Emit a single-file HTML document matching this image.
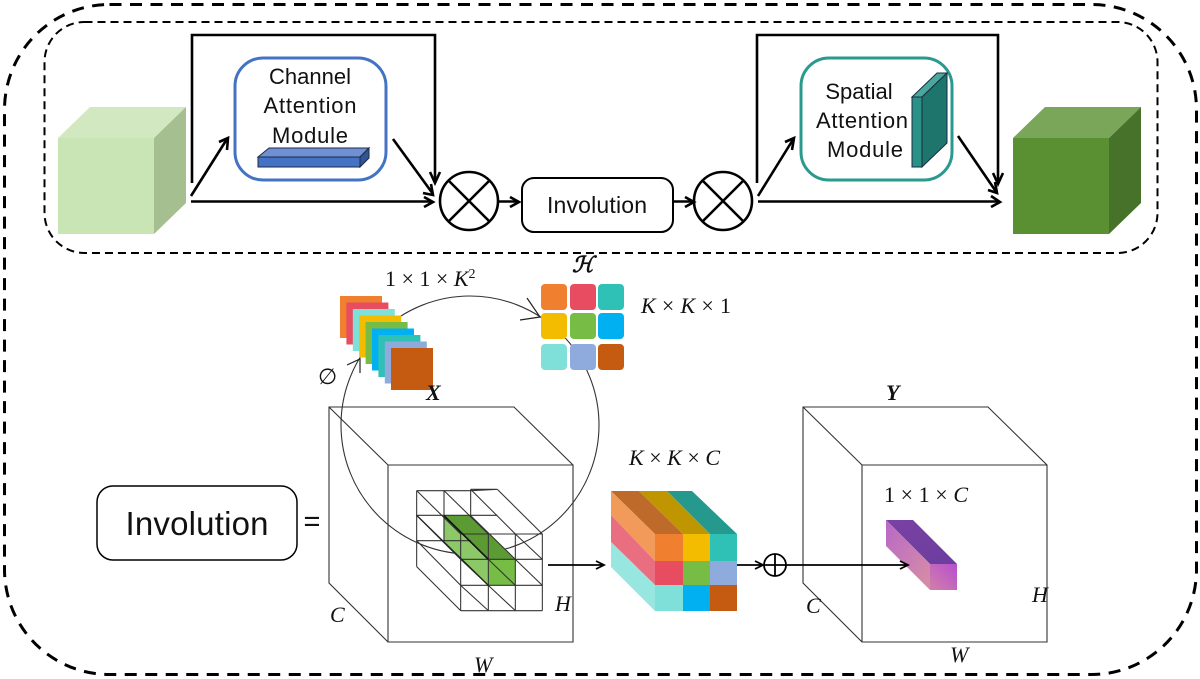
<!DOCTYPE html>
<html><head><meta charset="utf-8"><style>
html,body{margin:0;padding:0;background:#fff;width:1200px;height:679px;overflow:hidden}
svg{display:block}
.s{font-family:"Liberation Sans",sans-serif;fill:#111;text-anchor:middle}
.m{font-family:"Liberation Serif","DejaVu Serif",serif;fill:#111;font-size:22px}
.i{font-style:italic}
</style></head><body>
<svg width="1200" height="679" viewBox="0 0 1200 679" xmlns="http://www.w3.org/2000/svg">
<defs>
<linearGradient id="pt" x1="0" y1="0" x2="1" y2="1"><stop offset="0" stop-color="#7a42a4"/><stop offset="1" stop-color="#6a3d9e"/></linearGradient>
<linearGradient id="pl" x1="0" y1="0" x2="1" y2="1"><stop offset="0" stop-color="#b868c8"/><stop offset="1" stop-color="#d88ea4"/></linearGradient>
<linearGradient id="pf" x1="1" y1="0" x2="0" y2="1"><stop offset="0" stop-color="#b84fd0"/><stop offset="1" stop-color="#d080a8"/></linearGradient>
</defs>
<rect x="4.5" y="4.5" width="1192" height="670" rx="105" fill="none" stroke="#000" stroke-width="3" stroke-dasharray="12 8.5"/>
<rect x="44.5" y="22" width="1113" height="231" rx="40" fill="none" stroke="#000" stroke-width="2" stroke-dasharray="8 5"/>

<!-- input cube -->
<polygon points="58,138 90,107 186,107 154,138" fill="#d1e8c1"/>
<polygon points="154,138 186,107 186,203 154,234" fill="#a5bf91"/>
<rect x="58" y="138" width="96" height="96" fill="#c9e5b5"/>
<!-- output cube -->
<polygon points="1013,138 1045,107 1141,107 1109,138" fill="#7aa65a"/>
<polygon points="1109,138 1141,107 1141,203 1109,234" fill="#46722a"/>
<rect x="1013" y="138" width="96" height="96" fill="#5a8f32"/>

<!-- top connectors -->
<g fill="none" stroke="#000" stroke-width="2.6">
<path d="M192,183V35H435V183"/><path d="M430,172L435,183L440,172"/>
<path d="M191,196L227,139"/><path d="M219,142L228,138L227,150"/>
<path d="M393,139L433,194"/><path d="M423,193L433,195L431,184"/>
<path d="M191,201.5H432"/><path d="M424,197L433,202L424,207"/>
<circle cx="469" cy="201" r="29"/><path d="M448,180L490,222M490,180L448,222"/>
<path d="M498,201.5H518"/><path d="M510,197L519,202L510,207"/>
<path d="M673,201.5H693"/><path d="M685,197L694,202L685,207"/>
<circle cx="723" cy="201" r="29"/><path d="M702,180L744,222M744,180L702,222"/>
<path d="M757,183V35H998V184"/><path d="M993,173L998,184L1003,173"/>
<path d="M758,196L794,138"/><path d="M785,142L794,138L792,150"/>
<path d="M958,136L997,193"/><path d="M988,190L997,193L995,182"/>
<path d="M758,201.5H999"/><path d="M991,196L1000,202L991,207"/>
</g>
<rect x="235" y="58" width="151" height="122" rx="28" fill="#fff" stroke="#4472c4" stroke-width="3"/>
<rect x="801" y="58" width="151" height="122" rx="28" fill="#fff" stroke="#2b9a8e" stroke-width="3"/>
<rect x="522" y="178" width="151" height="54" rx="12" fill="#fff" stroke="#000" stroke-width="2"/>

<text class="s" font-size="22" x="310" y="84">Channel</text>
<text class="s" font-size="22" x="310" y="113" textLength="93">Attention</text>
<text class="s" font-size="22" x="310" y="143" textLength="76">Module</text>
<text class="s" font-size="22" x="859" y="99">Spatial</text>
<text class="s" font-size="22" x="862" y="128" textLength="92">Attention</text>
<text class="s" font-size="22" x="865" y="157" textLength="76">Module</text>
<text class="s" font-size="23" x="597" y="213" textLength="100">Involution</text>

<!-- blue block -->
<g stroke="#1c2a44" stroke-width="1">
<polygon points="258,157 269,148 369,148 360,157" fill="#6f91d4"/>
<polygon points="360,157 369,148 369,158 360,167" fill="#2f5597"/>
<rect x="258" y="157" width="102" height="10" fill="#4472c4"/>
<!-- teal block -->
<polygon points="912,97 937,73 947,73 922,97" fill="#4aa89b"/>
<polygon points="922,97 947,73 947,143 922,167" fill="#1d756b"/>
<rect x="912" y="97" width="10" height="70" fill="#2a9187"/>
</g>

<!-- lower left -->
<rect x="97" y="486" width="200" height="74" rx="16" fill="#fff" stroke="#000" stroke-width="1.5"/>
<text class="s" x="197" y="535" font-size="33" textLength="143">Involution</text>
<text class="s" x="312" y="531" font-size="29">=</text>

<!-- cube X -->
<g fill="none" stroke="#333" stroke-width="1.1">
<path d="M329,407H514L573,465V642H388L329,583Z"/>
<path d="M329,407L388,465H573M388,465V642"/>
<!-- cube Y -->
<path d="M803,407H988L1047,465V642H862L803,583Z"/>
<path d="M803,407L862,465H1047M862,465V642"/>
</g>

<!-- big circle -->
<circle cx="470" cy="425" r="129" fill="none" stroke="#333" stroke-width="1.1"/>
<path d="M527,298L540,317L520,320M347,365L360,359L360,373" fill="none" stroke="#222" stroke-width="1.2"/>

<!-- small grid -->
<g transform="translate(380,470) scale(.33333)">
<polygon points="190,137 272,137 406,268 325,268" fill="#5c9a34"/>
<polygon points="190,137 325,268 325,346 190,212" fill="#8cc868"/>
<polygon points="325,268 406,268 406,346 325,346" fill="#76bc45"/>
<g fill="none" stroke="#333" stroke-width="3.2">
<path d="M110,62H272L352,58M272,58H352M110,136H352M110,212H272M242,192H487M242,268H487M242,346H487M242,422H487"/>
<path d="M110,62V290M192,62V212M272,58V137M242,192V422M325,192V422M406,192V422M487,192V422"/>
<path d="M110,62L242,192M192,62L325,192M272,58L406,192M352,58L487,192"/>
<path d="M110,136L242,268M192,137L325,268M272,137L406,268"/>
<path d="M110,212L242,346M110,290L242,422"/>
<path d="M242,268L325,346M325,268L406,346M406,268L487,346M406,192L487,268M325,346L406,422M242,346L325,422"/>
</g>
<path d="M110,136L325,346" fill="none" stroke="#222" stroke-width="4"/>
<path d="M192,137L325,268" fill="none" stroke="#111" stroke-width="5"/>
</g>

<!-- stack -->
<rect x="340" y="296" width="42" height="42" fill="#f08030"/>
<rect x="346.4" y="302.5" width="42" height="42" fill="#e84c60"/>
<rect x="352.8" y="309" width="42" height="42" fill="#7fe0da"/>
<rect x="359.2" y="315.5" width="42" height="42" fill="#f3bc00"/>
<rect x="365.6" y="322" width="42" height="42" fill="#76bc45"/>
<rect x="372" y="328.5" width="42" height="42" fill="#00b0f0"/>
<rect x="378.4" y="335" width="42" height="42" fill="#2fc1b5"/>
<rect x="384.8" y="341.5" width="42" height="42" fill="#8faadc"/>
<rect x="391" y="348" width="42" height="42" fill="#c55a11"/>

<!-- H tiles -->
<g>
<rect x="541" y="284" width="26" height="26" rx="4" fill="#f08030"/>
<rect x="570" y="284" width="26" height="26" rx="4" fill="#e84c60"/>
<rect x="598" y="284" width="26" height="26" rx="4" fill="#2fc1b5"/>
<rect x="541" y="313" width="26" height="26" rx="4" fill="#f3bc00"/>
<rect x="570" y="313" width="26" height="26" rx="4" fill="#76bc45"/>
<rect x="598" y="313" width="26" height="26" rx="4" fill="#00b0f0"/>
<rect x="541" y="344" width="26" height="26" rx="4" fill="#7fe0da"/>
<rect x="570" y="344" width="26" height="26" rx="4" fill="#8faadc"/>
<rect x="598" y="344" width="26" height="26" rx="4" fill="#c55a11"/>
</g>

<!-- coloured cuboid -->
<g>
<polygon points="611,491 639,491 683,534 655,534" fill="#bd6a2a"/>
<polygon points="639,491 667,491 710,534 683,534" fill="#c09600"/>
<polygon points="667,491 692,491 737,534 710,534" fill="#26998f"/>
<polygon points="611,491 655,534 655,561 611,515" fill="#f19a59"/>
<polygon points="611,515 655,561 655,585 611,542" fill="#e96f80"/>
<polygon points="611,542 655,585 655,611 611,567" fill="#97e6e0"/>
<rect x="655" y="534" width="28" height="27" fill="#f08030"/>
<rect x="683" y="534" width="27" height="27" fill="#f3bc00"/>
<rect x="710" y="534" width="27" height="27" fill="#2fc1b5"/>
<rect x="655" y="561" width="28" height="24" fill="#e84c60"/>
<rect x="683" y="561" width="27" height="24" fill="#76bc45"/>
<rect x="710" y="561" width="27" height="24" fill="#8faadc"/>
<rect x="655" y="585" width="28" height="26" fill="#7fe0da"/>
<rect x="683" y="585" width="27" height="26" fill="#00b0f0"/>
<rect x="710" y="585" width="27" height="26" fill="#c55a11"/>
</g>

<!-- purple cuboid -->
<polygon points="886,520 913,520 957,564 930,564" fill="url(#pt)"/>
<polygon points="886,520 930,564 930,590 886,546" fill="url(#pl)"/>
<rect x="930" y="564" width="27" height="26" fill="url(#pf)"/>

<!-- lower connectors -->
<g fill="none" stroke="#000" stroke-width="1.8">
<path d="M548,565H603M596,561L604,565L596,569"/>
<path d="M737,565H762M755,561L763,565L755,569"/>
<circle cx="775" cy="565" r="11"/><path d="M764,565H786M775,554V576"/>
<path d="M786,565H908M900,561L908,565L900,569"/>
</g>

<!-- math labels -->
<text class="m" x="385" y="286">1 × 1 × <tspan class="i">K</tspan><tspan font-size="14" dy="-8">2</tspan></text>
<text class="m" x="572" y="272" font-weight="bold" font-style="italic" font-size="20">ℋ</text>
<text class="m" x="641" y="313" textLength="90"><tspan class="i">K</tspan> × <tspan class="i">K</tspan> × 1</text>
<text class="m" x="629" y="465" textLength="91"><tspan class="i">K</tspan> × <tspan class="i">K</tspan> × <tspan class="i">C</tspan></text>
<text class="m" x="884" y="502" textLength="84">1 × 1 × <tspan class="i">C</tspan></text>
<text class="m" x="318" y="384" font-size="20">∅</text>
<text class="m i" x="426" y="400" font-weight="bold" font-size="20">X</text>
<text class="m i" x="886" y="400" font-weight="bold" font-size="20">Y</text>
<text class="m i" x="555" y="611">H</text>
<text class="m i" x="330" y="622">C</text>
<text class="m i" x="474" y="672">W</text>
<text class="m i" x="806" y="613">C</text>
<text class="m i" x="1032" y="602">H</text>
<text class="m i" x="950" y="662">W</text>
</svg>
</body></html>
